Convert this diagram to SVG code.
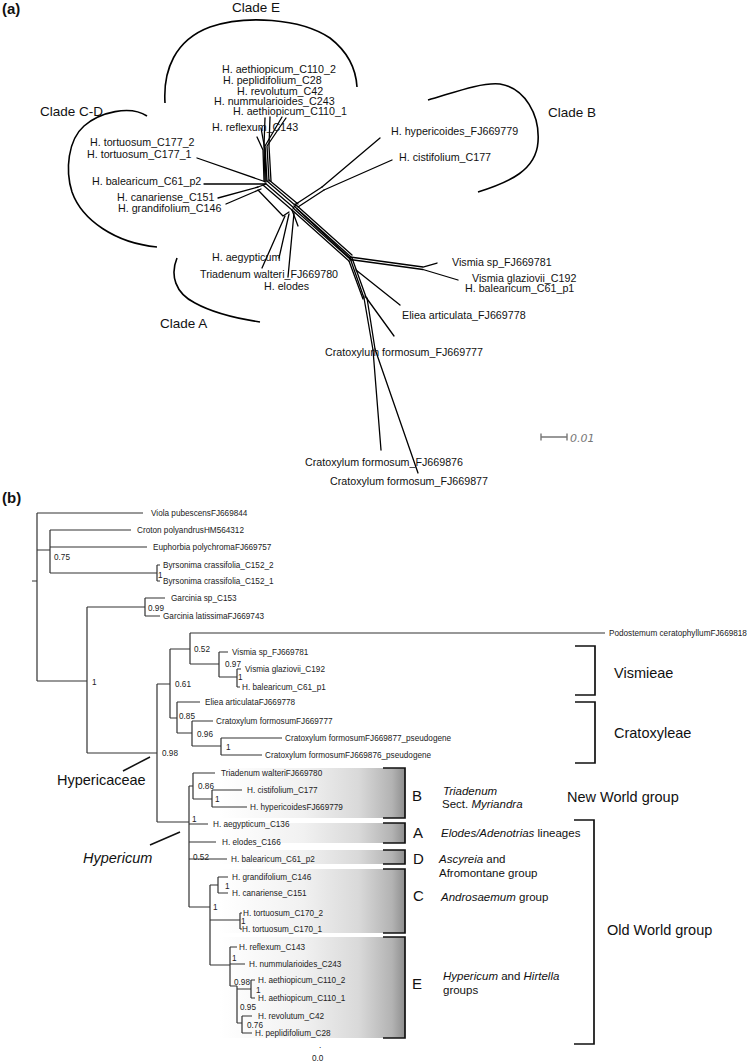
<svg xmlns="http://www.w3.org/2000/svg" width="750" height="1063" viewBox="0 0 750 1063">
<defs>
<linearGradient id="shade" x1="0" y1="0" x2="1" y2="0">
<stop offset="0" stop-color="#ffffff"/>
<stop offset="0.45" stop-color="#f1f1f1"/>
<stop offset="0.75" stop-color="#d9d9d9"/>
<stop offset="0.93" stop-color="#b3b3b3"/>
<stop offset="1" stop-color="#8e8e8e"/>
</linearGradient>
<style>
text{font-family:"Liberation Sans",Arial,sans-serif;fill:#111}
.ta{font-size:10.7px}
.tb{font-size:8.2px;fill:#222}
.big{font-size:14.5px}
.cl{font-size:13.5px}
.let{font-size:15px}
.desc{font-size:11.5px}
.hd{font-size:15px;font-weight:bold}
.it{font-style:italic}
.sc{font-family:"DejaVu Sans",sans-serif;font-size:11px;font-style:italic;fill:#777}
.net{stroke:#000;stroke-width:1.3;fill:none;stroke-linecap:round;stroke-linejoin:round}
.arc{stroke:#000;stroke-width:1.6;fill:none}
.tr{stroke:#333;stroke-width:1.2;fill:none}
.br{stroke:#111;stroke-width:1.7;fill:none}
.box{fill:url(#shade)}
</style>
</defs>
<rect width="750" height="1063" fill="#fff"/>

<!-- ===== Panel (a) ===== -->
<text class="hd" x="2" y="14">(a)</text>

<g id="clade-arcs">
<path class="arc" d="M165,103 C163,70 175,40 210,27 C245,15 300,18 330,38 C348,52 356,70 357,87"/>
<path class="arc" d="M147,116 C130,105 100,112 84,126 C68,140 65,170 72,192 C82,220 115,243 157,247"/>
<path class="arc" d="M177,258 C170,275 175,293 195,303 C215,314 240,319 260,322"/>
<path class="arc" d="M428,100 C450,94 480,82 500,84 C525,88 540,115 538,142 C536,170 510,182 478,192"/>
</g>
<g id="clade-labels">
<text class="cl" x="232" y="12">Clade E</text>
<text class="cl" x="40" y="116">Clade C-D</text>
<text class="cl" x="548" y="117">Clade B</text>
<text class="cl" x="160" y="328">Clade A</text>
</g>

<g id="network-connectors">
<path class="net" d="M267,181 L265,146 L282,117"/>
<path class="net" d="M269,181 L267,146 L286,118"/>
<path class="net" d="M271,181 L269,146 L270,117"/>
<path class="net" d="M265,181 L264,146 L265,118"/>
<path class="net" d="M266,181 L265,150 L261,128"/>
<path class="net" d="M264,181 L263,150 L257,137"/>
<path class="net" d="M267,181 L296,206"/>
<path class="net" d="M269,180 L298,204"/>
<path class="net" d="M265,183 L294,208"/>
<path class="net" d="M263,185 L292,210"/>
<path class="net" d="M258,190 L283,216 L289,212"/>
<path class="net" d="M266,182 L197,158"/>
<path class="net" d="M265,184 L204,184"/>
<path class="net" d="M258,187 L218,198"/>
<path class="net" d="M261,189 L226,204"/>
<path class="net" d="M258,187 L266,184"/>
<path class="net" d="M285,216 L262,268"/>
<path class="net" d="M289,214 L279,258"/>
<path class="net" d="M294,213 L288,277"/>
<path class="net" d="M292,210 L298,226"/>
<path class="net" d="M296,204 L322,187"/>
<path class="net" d="M298,207 L324,190"/>
<path class="net" d="M322,187 L380,138"/>
<path class="net" d="M324,190 L392,160"/>
<path class="net" d="M295,204 L352,255"/>
<path class="net" d="M294,206 L351,257"/>
<path class="net" d="M293,208 L350,259"/>
<path class="net" d="M292,210 L349,261"/>
<path class="net" d="M297,209 L352,260"/>
<path class="net" d="M350,257 L423,267 L437,263"/>
<path class="net" d="M350,259.5 L423,269.5 L458,280"/>
<path class="net" d="M350,258 L364,298"/>
<path class="net" d="M352,258 L366,297"/>
<path class="net" d="M349,261 L363,299"/>
<path class="net" d="M356,270 L400,305"/>
<path class="net" d="M365,296 L394,336"/>
<path class="net" d="M364,298 L373,350"/>
<path class="net" d="M367,298 L375,349"/>
<path class="net" d="M373,350 L381,450"/>
<path class="net" d="M375,349 L418,473"/>
</g>

<g id="a-clusterE">
<text class="ta" x="222" y="73">H. aethiopicum_C110_2</text>
<text class="ta" x="223" y="84">H. peplidifolium_C28</text>
<text class="ta" x="237" y="95">H. revolutum_C42</text>
<text class="ta" x="214" y="105">H. nummularioides_C243</text>
<text class="ta" x="233" y="115">H. aethiopicum_C110_1</text>
<text class="ta" x="212" y="131">H. reflexum_C143</text>
</g>
<g id="a-clusterCD">
<text class="ta" x="90" y="146">H. tortuosum_C177_2</text>
<text class="ta" x="87" y="158">H. tortuosum_C177_1</text>
<text class="ta" x="92" y="185">H. balearicum_C61_p2</text>
<text class="ta" x="117" y="201">H. canariense_C151</text>
<text class="ta" x="118" y="212">H. grandifolium_C146</text>
</g>
<g id="a-clusterA">
<text class="ta" x="212" y="261">H. aegypticum</text>
<text class="ta" x="200" y="278">Triadenum walteri_FJ669780</text>
<text class="ta" x="264" y="290">H. elodes</text>
</g>
<g id="a-clusterB">
<text class="ta" x="391" y="135">H. hypericoides_FJ669779</text>
<text class="ta" x="399" y="161">H. cistifolium_C177</text>
</g>
<g id="a-outgroups">
<text class="ta" x="452" y="266">Vismia sp_FJ669781</text>
<text class="ta" x="472" y="282">Vismia glaziovii_C192</text>
<text class="ta" x="465" y="292">H. balearicum_C61_p1</text>
<text class="ta" x="402" y="319">Eliea articulata_FJ669778</text>
<text class="ta" x="325" y="356">Cratoxylum formosum_FJ669777</text>
<text class="ta" x="305" y="466">Cratoxylum formosum_FJ669876</text>
<text class="ta" x="330" y="485">Cratoxylum formosum_FJ669877</text>
</g>
<g id="scale-bar">
<path d="M541,437 H567 M541,433.5 V440.5 M567,433.5 V440.5" stroke="#777" stroke-width="1.4" fill="none"/>
<text class="sc" x="570" y="442">0.01</text>
</g>

<!-- ===== Panel (b) ===== -->
<text class="hd" x="2" y="503">(b)</text>

<g id="clade-boxes">
<rect class="box" x="220" y="768" width="185" height="50"/>
<rect class="box" x="220" y="823" width="185" height="20"/>
<rect class="box" x="220" y="850" width="185" height="14"/>
<rect class="box" x="220" y="869" width="185" height="64"/>
<rect class="box" x="220" y="937" width="185" height="101"/>
<path class="br" d="M383,768 H405 V818 H383 M383,823 H405 V843 H383 M383,850 H405 V864 H383 M383,869 H405 V933 H383 M383,937 H405 V1038 H383"/>
</g>

<g id="tree-connectors">
<path class="tr" d="M32,581H37 M37,513V681 M37,513H143 M37,550H50 M50,530V573 M50,530H131 M50,547H147 M50,573H157 M157,565V581 M157,565H160 M157,581H160"/>
<path class="tr" d="M37,681H87 M87,607V753 M87,607H145 M145,598V616 M145,598H165 M145,616H160 M87,753H157 M157,684V822"/>
<path class="tr" d="M157,684H170 M170,649V718 M170,649H190 M190,633V664 M190,633H605 M190,664H219 M219,652V677 M219,652H228 M219,677H237 M237,669V687 M237,669H241 M237,687H240"/>
<path class="tr" d="M170,718H177 M177,702V733 M177,702H200 M177,733H192 M192,721V746 M192,721H213 M192,746H221 M221,738V755 M221,738H282 M221,755H262"/>
<path class="tr" d="M157,822H189 M189,786V907 M189,786H193 M193,773V799 M193,773H215 M193,799H212 M212,790V807 M212,790H242 M212,807H247 M189,824H208 M189,842H216 M189,859H227"/>
<path class="tr" d="M189,907H210 M210,885V965 M210,885H218 M218,877V893 M218,877H228 M218,893H228 M210,920H240 M240,913V929 M240,913H242 M240,929H242"/>
<path class="tr" d="M210,965H230 M230,947V986 M230,947H237 M230,964H245 M230,986H237 M237,986V1023 M237,989H251 M251,980V998 M251,980H255 M251,998H255 M237,1023H242 M242,1016V1033 M242,1016H252 M242,1033H252"/>
</g>

<g id="outgroup-leaves">
<text class="tb" x="151" y="516">Viola pubescensFJ669844</text>
<text class="tb" x="137" y="533">Croton polyandrusHM564312</text>
<text class="tb" x="153" y="550">Euphorbia polychromaFJ669757</text>
<text class="tb" x="163" y="568">Byrsonima crassifolia_C152_2</text>
<text class="tb" x="163" y="584">Byrsonima crassifolia_C152_1</text>
<text class="tb" x="171" y="601">Garcinia sp_C153</text>
<text class="tb" x="163" y="619">Garcinia latissimaFJ669743</text>
<text class="tb" x="609" y="636">Podostemum ceratophyllumFJ669818</text>
</g>
<g id="vismieae-leaves">
<text class="tb" x="232" y="655">Vismia sp_FJ669781</text>
<text class="tb" x="245" y="672">Vismia glaziovii_C192</text>
<text class="tb" x="242" y="690">H. balearicum_C61_p1</text>
</g>
<g id="cratoxyleae-leaves">
<text class="tb" x="205" y="705">Eliea articulataFJ669778</text>
<text class="tb" x="216" y="724">Cratoxylum formosumFJ669777</text>
<text class="tb" x="285" y="741">Cratoxylum formosumFJ669877_pseudogene</text>
<text class="tb" x="265" y="758">Cratoxylum formosumFJ669876_pseudogene</text>
</g>
<g id="hypericum-leaves">
<text class="tb" x="221" y="776">Triadenum walteriFJ669780</text>
<text class="tb" x="247" y="793">H. cistifolium_C177</text>
<text class="tb" x="250" y="810">H. hypericoidesFJ669779</text>
<text class="tb" x="213" y="827">H. aegypticum_C136</text>
<text class="tb" x="222" y="845">H. elodes_C166</text>
<text class="tb" x="231" y="862">H. balearicum_C61_p2</text>
<text class="tb" x="232" y="880">H. grandifolium_C146</text>
<text class="tb" x="232" y="896">H. canariense_C151</text>
<text class="tb" x="243" y="916">H. tortuosum_C170_2</text>
<text class="tb" x="242" y="932">H. tortuosum_C170_1</text>
<text class="tb" x="239" y="950">H. reflexum_C143</text>
<text class="tb" x="249" y="967">H. nummularioides_C243</text>
<text class="tb" x="258" y="983">H. aethiopicum_C110_2</text>
<text class="tb" x="258" y="1001">H. aethiopicum_C110_1</text>
<text class="tb" x="258" y="1019">H. revolutum_C42</text>
<text class="tb" x="255" y="1036">H. peplidifolium_C28</text>
</g>
<g id="support-values">
<text class="tb" x="54" y="560">0.75</text>
<text class="tb" x="158" y="578">1</text>
<text class="tb" x="148" y="611">0.99</text>
<text class="tb" x="92" y="685">1</text>
<text class="tb" x="194" y="652">0.52</text>
<text class="tb" x="225" y="667">0.97</text>
<text class="tb" x="238" y="680">1</text>
<text class="tb" x="175" y="687">0.61</text>
<text class="tb" x="179" y="719">0.85</text>
<text class="tb" x="197" y="737">0.96</text>
<text class="tb" x="226" y="750">1</text>
<text class="tb" x="162" y="756">0.98</text>
<text class="tb" x="198" y="789">0.86</text>
<text class="tb" x="215" y="802">1</text>
<text class="tb" x="192" y="822">1</text>
<text class="tb" x="193" y="860">0.52</text>
<text class="tb" x="225" y="889">1</text>
<text class="tb" x="213" y="910">1</text>
<text class="tb" x="241" y="924">1</text>
<text class="tb" x="232" y="961">1</text>
<text class="tb" x="234" y="985">0.98</text>
<text class="tb" x="256" y="993">1</text>
<text class="tb" x="240" y="1010">0.95</text>
<text class="tb" x="247" y="1028">0.76</text>
<text class="tb" x="319" y="1048">.</text>
<text class="tb" x="312" y="1061">0.0</text>
</g>

<g id="hypericaceae-label">
<path d="M123,771 L150,757" stroke="#111" stroke-width="1.5"/>
<text class="big" x="57" y="785">Hypericaceae</text>
</g>
<g id="hypericum-label">
<path d="M150,845 L180,832" stroke="#111" stroke-width="1.5"/>
<text class="big it" x="83" y="863">Hypericum</text>
</g>

<g id="vismieae-group">
<path class="br" d="M575,646 H595 V695 H575"/>
<text class="big" x="614" y="678">Vismieae</text>
</g>
<g id="cratoxyleae-group">
<path class="br" d="M575,702 H595 V763 H575"/>
<text class="big" x="614" y="738">Cratoxyleae</text>
</g>

<g id="clade-B">
<text class="let" x="412" y="801">B</text>
<text class="desc it" x="443" y="795">Triadenum</text>
<text class="desc" x="442" y="808">Sect. <tspan class="it">Myriandra</tspan></text>
</g>
<g id="clade-A">
<text class="let" x="413" y="838">A</text>
<text class="desc" x="441" y="837"><tspan class="it">Elodes/Adenotrias</tspan> lineages</text>
</g>
<g id="clade-D">
<text class="let" x="413" y="864">D</text>
<text class="desc" x="439" y="863"><tspan class="it">Ascyreia</tspan> and</text>
<text class="desc" x="439" y="877">Afromontane group</text>
</g>
<g id="clade-C">
<text class="let" x="413" y="901">C</text>
<text class="desc" x="441" y="901"><tspan class="it">Androsaemum</tspan> group</text>
</g>
<g id="clade-E">
<text class="let" x="412" y="989">E</text>
<text class="desc" x="443" y="980"><tspan class="it">Hypericum</tspan> and <tspan class="it">Hirtella</tspan></text>
<text class="desc" x="443" y="994">groups</text>
</g>

<g id="new-world-group">
<text class="big" x="567" y="802">New World group</text>
</g>
<g id="old-world-group">
<path class="br" d="M574,820 H594 V1044 H574"/>
<text class="big" x="607" y="935">Old World group</text>
</g>
</svg>
